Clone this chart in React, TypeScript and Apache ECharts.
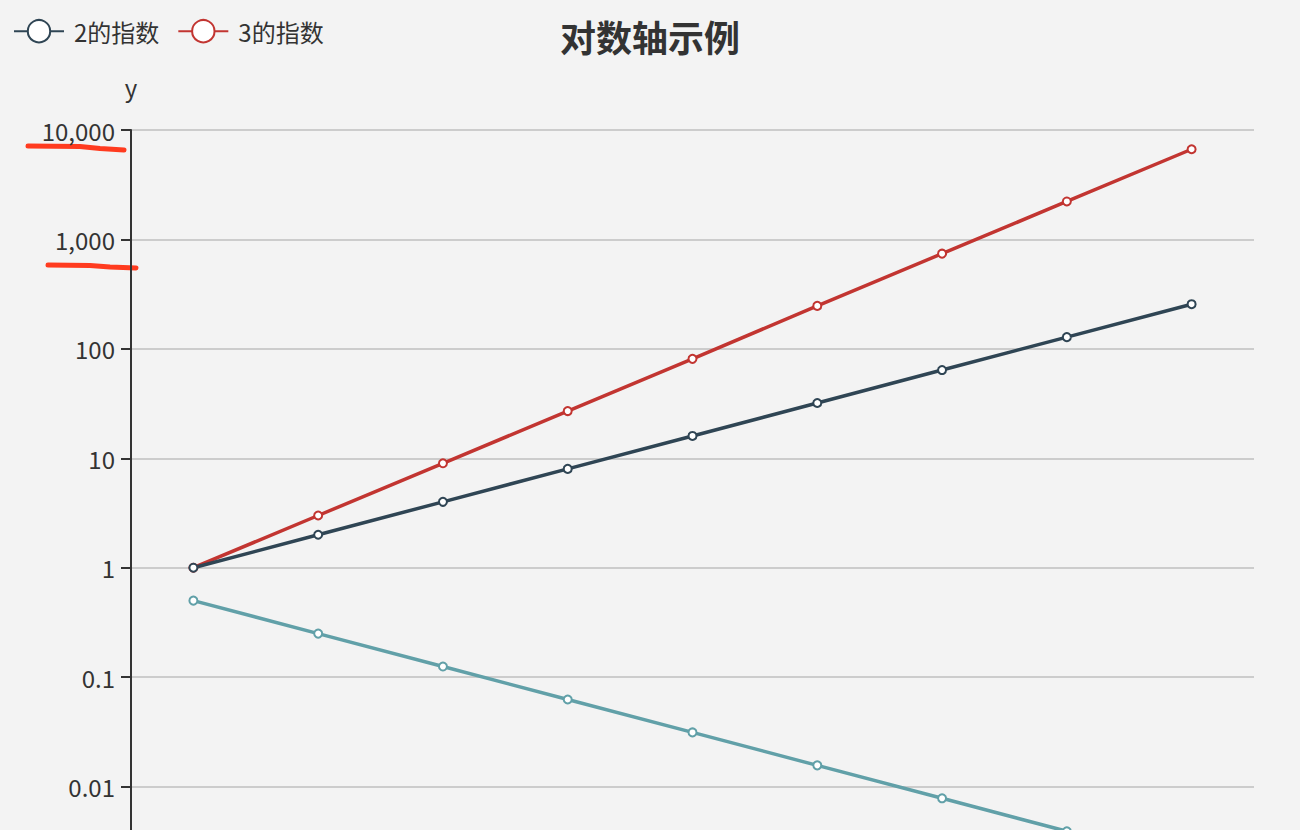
import { useEffect, useRef } from "react"
import * as echarts from "echarts"

const categories = ["一", "二", "三", "四", "五", "六", "七", "八", "九"]
const powersOf3 = [1, 3, 9, 27, 81, 247, 741, 2223, 6669]
const powersOf2 = [1, 2, 4, 8, 16, 32, 64, 128, 256]
const powersOfHalf = [1 / 2, 1 / 4, 1 / 8, 1 / 16, 1 / 32, 1 / 64, 1 / 128, 1 / 256, 1 / 512]

const FONT = '"Noto Sans CJK SC", "Noto Sans", sans-serif'

export default function App() {
  const chartRef = useRef<HTMLDivElement>(null)

  useEffect(() => {
    document.body.style.margin = "0"
    document.body.style.background = "#f3f3f3"
    if (!chartRef.current) return
    const chart = echarts.init(chartRef.current, undefined, { renderer: "svg" })

    const lineSeries = (name: string, data: number[], color: string) => ({
      name,
      type: "line" as const,
      data,
      symbol: "emptyCircle",
      symbolSize: 8,
      itemStyle: { color, borderWidth: 2 },
      lineStyle: { color, width: 3.5 },
    })

    chart.setOption({
      animation: false,
      backgroundColor: "#f3f3f3",
      textStyle: { fontFamily: FONT, color: "#333" },
      title: {
        text: "对数轴示例",
        left: "center",
        top: 18,
        padding: 0,
        textStyle: { fontSize: 36, fontWeight: "bold", color: "#333", fontFamily: FONT },
      },
      legend: {
        left: 13,
        top: 19,
        padding: 0,
        itemWidth: 50,
        itemHeight: 28,
        itemGap: 18,
        data: ["2的指数", "3的指数"],
        textStyle: { fontSize: 24, color: "#333", fontFamily: FONT, padding: [0, 0, 0, 5] },
        lineStyle: { width: 2 },
      },
      // the chart is taller than the window; the window shows its top part, as the reference does
      grid: { left: 131, top: 130, width: 1123, height: 766 },
      xAxis: {
        type: "category",
        name: "x",
        data: categories,
        splitLine: { show: false },
        axisLine: { lineStyle: { color: "#333", width: 2 } },
        axisTick: { length: 10, lineStyle: { width: 2 } },
        axisLabel: { fontSize: 24, margin: 16, color: "#333" },
        nameTextStyle: { fontSize: 24 },
      },
      yAxis: {
        type: "log",
        name: "y",
        min: 0.001,
        max: 10000,
        nameGap: 32,
        nameTextStyle: { fontSize: 24, color: "#333" },
        axisLine: { show: true, lineStyle: { color: "#333", width: 2 } },
        axisTick: { show: true, length: 10, lineStyle: { color: "#333", width: 2 } },
        axisLabel: { fontSize: 24, margin: 16, color: "#333" },
        splitLine: { show: true, lineStyle: { color: "#ccc", width: 2 } },
      },
      graphic: [
        {
          type: "polyline",
          shape: { points: [[28, 146], [80, 146.5], [100, 148.5], [124, 150]] },
          style: { stroke: "#ff3b1f", lineWidth: 5, lineCap: "round", lineJoin: "round", fill: "none" },
        },
        {
          type: "polyline",
          shape: { points: [[48, 265], [90, 265.5], [110, 267], [136, 268]] },
          style: { stroke: "#ff3b1f", lineWidth: 5, lineCap: "round", lineJoin: "round", fill: "none" },
        },
      ],
      series: [
        lineSeries("3的指数", powersOf3, "#c23531"),
        lineSeries("2的指数", powersOf2, "#2f4554"),
        lineSeries("1/2的指数", powersOfHalf, "#61a0a8"),
      ],
    })

    return () => chart.dispose()
  }, [])

  return <div ref={chartRef} style={{ width: "1300px", height: "1000px" }} />
}
